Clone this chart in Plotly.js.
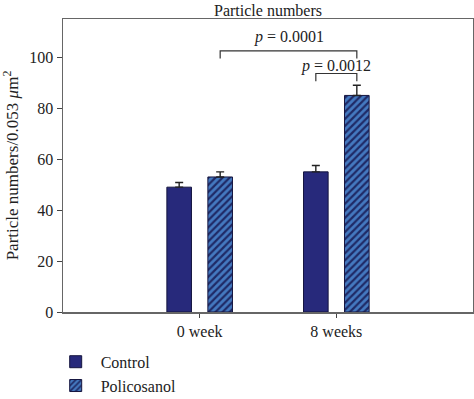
<!DOCTYPE html>
<html>
<head>
<meta charset="utf-8">
<script src="https://cdn.plot.ly/plotly-3.0.1.min.js"></script>
<style>html,body{margin:0;padding:0;background:#fff;}#chart{width:474px;height:399px;}</style>
</head>
<body>
<div id="chart"></div>
<script>
// ---- data ----
const categories = ['0 week', '8 weeks'];
const controlMean = [49, 55];
const controlErr = [1.8, 2.5];
const policosanolMean = [53, 85];
const policosanolErr = [2, 4];
const yTicks = [0, 20, 40, 60, 80, 100];
// significance comparisons: [group index, series] -> [group index, series]
const compLabels = ['<i>p</i> = 0.0001', '<i>p</i> = 0.0012'];
const compFrom = [[0, 1], [1, 0]];
const compTo = [[1, 1], [1, 1]];
const compLevel = [102.5, 93.6];

// ---- styling ----
const FONT = 'Liberation Serif';
const barW = 0.18;
const offsets = [-0.24, 0.06];
const centerOf = (g, s) => g + offsets[s] + barW / 2;

const errStyle = {type: 'data', symmetric: false, arrayminus: [0, 0], color: '#222', thickness: 1.4, width: 4};

const traces = [
  {
    type: 'bar', name: 'Control', x: categories, y: controlMean,
    width: barW, offset: offsets[0],
    marker: {color: '#27297b', line: {color: '#15153f', width: 1}},
    error_y: Object.assign({array: controlErr}, errStyle)
  },
  {
    type: 'bar', name: 'Policosanol', x: categories, y: policosanolMean,
    width: barW, offset: offsets[1],
    marker: {color: '#3d70b8', line: {color: '#15153f', width: 1},
      pattern: {shape: '/', fgcolor: '#1f2a66', bgcolor: '#4479c0', size: 5, solidity: 0.45}},
    error_y: Object.assign({array: policosanolErr}, errStyle)
  }
];

const shapes = [];
const annotations = [];
const drop = 3;
compLabels.forEach((lab, i) => {
  const x0 = centerOf(compFrom[i][0], compFrom[i][1]);
  const x1 = centerOf(compTo[i][0], compTo[i][1]);
  const yl = compLevel[i];
  shapes.push({type: 'path', xref: 'x', yref: 'y',
    path: `M${x0},${yl - drop} L${x0},${yl} L${x1},${yl} L${x1},${yl - drop}`,
    line: {color: '#333', width: 1.2}});
  annotations.push({xref: 'x', yref: 'y', x: (x0 + x1) / 2, y: yl, text: lab,
    showarrow: false, yanchor: 'bottom', yshift: i === 0 ? 3 : -3,
    font: {family: FONT, size: 16, color: '#222'}});
});

const layout = {
  width: 474, height: 399,
  margin: {l: 63, r: 1, t: 19, b: 87, autoexpand: false},
  paper_bgcolor: '#fff', plot_bgcolor: '#fff',
  font: {family: FONT, size: 16, color: '#222'},
  title: {text: 'Particle numbers', font: {family: FONT, size: 16, color: '#222'},
    x: 0.5, xref: 'paper', y: 0.975, yanchor: 'middle'},
  showlegend: true,
  legend: {x: -0.03, xanchor: 'left', y: -0.112, yanchor: 'top',
    font: {family: FONT, size: 16, color: '#222'}, tracegroupgap: 0, itemwidth: 40,
    bgcolor: 'rgba(0,0,0,0)'},
  xaxis: {
    type: 'category', range: [-1, 2], showgrid: false, zeroline: false,
    showline: true, linecolor: '#666', linewidth: 1.5, mirror: true,
    ticks: 'outside', ticklen: 4, tickcolor: '#444', tickwidth: 1,
    tickfont: {family: FONT, size: 16, color: '#222'}
  },
  yaxis: {
    range: [0, 115], tickvals: yTicks, showgrid: false, zeroline: false,
    showline: true, linecolor: '#666', linewidth: 1.5, mirror: true,
    ticks: 'outside', ticklen: 5, tickcolor: '#444', tickwidth: 1,
    tickfont: {family: FONT, size: 16, color: '#222'},
    title: {text: 'Particle numbers/0.053 <i>μ</i>m<sup>2</sup>', standoff: 8,
      font: {family: FONT, size: 17, color: '#222'}}
  },
  shapes: shapes,
  annotations: annotations
};

Plotly.newPlot('chart', traces, layout, {displayModeBar: false, staticPlot: true});
</script>
</body>
</html>
